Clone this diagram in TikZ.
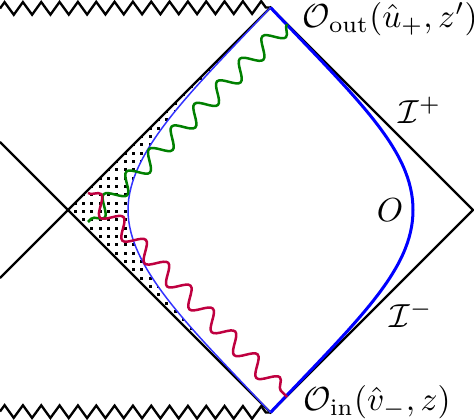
\documentclass[tikz,border=0pt]{standalone}
\usepackage{amsmath,amsfonts,amssymb}
\usepackage{xcolor}
\usepackage{tikz}
\usetikzlibrary{decorations.pathmorphing,patterns}

\pgfdeclarepatternformonly{sqdots}{\pgfqpoint{-1pt}{-1pt}}{\pgfqpoint{1.5pt}{1.5pt}}{\pgfqpoint{2.5pt}{2.5pt}}%
  {\pgfpathrectangle{\pgfqpoint{-0.45pt}{-0.45pt}}{\pgfqpoint{0.9pt}{0.9pt}}\pgfusepath{fill}}

\begin{document}
\begin{tikzpicture}[x=0.3pt,y=-0.3pt,
    edge/.style={line width=0.7pt},
    sing/.style={line width=0.7pt,decorate,decoration={zigzag,segment length=5.5pt,amplitude=1.9pt}},
    ray/.style={line width=0.75pt,decorate,decoration={snake,segment length=9.6pt,amplitude=2.6pt}},
    lbl/.style={inner sep=0pt}]
    \useasboundingbox (0,0) rectangle (474,420);
    \coordinate (top) at (270.5,7.5);
    \coordinate (bot) at (270.5,412.5);
    \coordinate (spi) at (473,210);
    \coordinate (bif) at (68,210);
    \coordinate (lt) at (0,142);
    \coordinate (lb) at (0,278);
    \coordinate (st) at (0,8.5);
    \coordinate (sb) at (0,411.5);
    \coordinate (nose) at (413,210);
    \coordinate (throat) at (128,210);
    \coordinate (gs) at (287,24);
    \coordinate (ge) at (88,222);
    \coordinate (rs) at (88,193);
    \coordinate (re) at (287,397);

    \fill[pattern=sqdots] (top) -- (bif) -- (bot) .. controls (195,332) and (128,270) .. (throat)
        .. controls (128,150) and (195,88) .. (top);
    \draw[edge] (lt) -- (bot) -- (spi) -- (top) -- (lb);
    \draw[sing] (st) -- (top);
    \draw[sing] (sb) -- (bot);
    \draw[blue,line width=0.9pt] (top) .. controls (358,100) and (413,150) .. (nose)
        .. controls (413,270) and (358,320) .. (bot);
    \draw[blue!80,line width=0.45pt] (top) .. controls (195,88) and (128,150) .. (throat)
        .. controls (128,270) and (195,332) .. (bot);
    \draw[ray,green!50!black] (gs) -- (ge);
    \draw[ray,purple] (rs) -- (re);

    \node[lbl,anchor=west] (Oout) at (302,19) {$\mathcal{O}_{\rm out}(\hat{u}_+,z')$};
    \node[lbl,anchor=west] (Oin) at (303,402) {$\mathcal{O}_{\rm in}(\hat{v}_-,z)$};
    \node[lbl] (Iplus) at (420,110) {$\mathcal{I}^+$};
    \node[lbl] (Iminus) at (411,314) {$\mathcal{I}^-$};
    \node[lbl] (O) at (390,210) {$O$};
\end{tikzpicture}
\end{document}
